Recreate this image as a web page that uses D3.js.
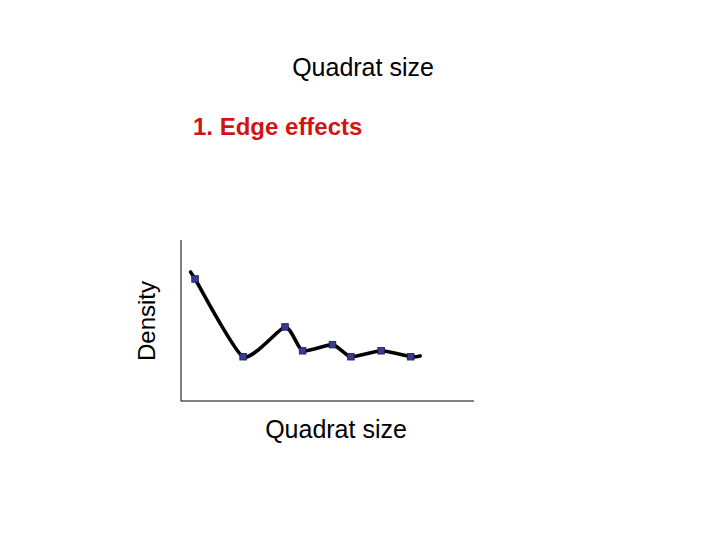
<!DOCTYPE html>
<html>
<head>
<meta charset="utf-8">
<script src="https://cdn.jsdelivr.net/npm/d3@7"></script>
<style>
  body { margin: 0; background: #fff; }
  text { font-family: "Liberation Sans", Arial, sans-serif; }
</style>
</head>
<body>
<div id="chart"></div>
<script>
// sample points (quadrat size, density)
const sizes = [0.48, 2.12, 3.55, 4.15, 5.17, 5.8, 6.83, 7.84];
const densities = [7.58, 2.75, 4.6, 3.12, 3.5, 2.75, 3.12, 2.75];
// the drawn curve runs a bit past the first and last sample
const curveStart = [0.33, 8.0];
const curveEnd = [8.16, 2.8];

const width = 720, height = 540;

const svg = d3.select("#chart").append("svg")
  .attr("width", width)
  .attr("height", height);

const x = d3.scaleLinear().domain([0, 10]).range([181, 474]);
const y = d3.scaleLinear().domain([0, 10]).range([401, 240]);

const points = sizes.map((s, i) => [s, densities[i]]);
const curvePoints = [curveStart, ...points, curveEnd];

// axes: plain lines, no ticks
svg.append("line")
  .attr("x1", x(0)).attr("x2", x(0))
  .attr("y1", y(0)).attr("y2", y(10))
  .attr("stroke", "#000").attr("stroke-width", 1);
svg.append("line")
  .attr("x1", x(0)).attr("x2", x(10))
  .attr("y1", y(0)).attr("y2", y(0))
  .attr("stroke", "#000").attr("stroke-width", 1);

const line = d3.line()
  .x(d => x(d[0]))
  .y(d => y(d[1]))
  .curve(d3.curveCardinal.tension(0.4));

svg.append("path")
  .datum(curvePoints)
  .attr("d", line)
  .attr("fill", "none")
  .attr("stroke", "#000")
  .attr("stroke-width", 3.6)
  .attr("stroke-linecap", "round")
  .attr("stroke-linejoin", "round");

svg.selectAll("rect.pt")
  .data(points)
  .enter().append("rect")
  .attr("class", "pt")
  .attr("x", d => x(d[0]) - 3.3)
  .attr("y", d => y(d[1]) - 3.3)
  .attr("width", 6.6)
  .attr("height", 6.6)
  .attr("fill", "#3a3a94")
  .attr("stroke", "#1c1c5a")
  .attr("stroke-width", 0.8);

// texts
svg.append("text")
  .attr("x", 363).attr("y", 76)
  .attr("text-anchor", "middle")
  .style("font-size", "25px")
  .text("Quadrat size");

svg.append("text")
  .attr("x", 193).attr("y", 135)
  .style("font-size", "24px")
  .style("font-weight", "bold")
  .attr("fill", "#d01414")
  .text("1. Edge effects");

svg.append("text")
  .attr("x", 336).attr("y", 438)
  .attr("text-anchor", "middle")
  .style("font-size", "25px")
  .text("Quadrat size");

svg.append("text")
  .attr("transform", "translate(155,321) rotate(-90)")
  .attr("text-anchor", "middle")
  .style("font-size", "24px")
  .text("Density");
</script>
</body>
</html>
